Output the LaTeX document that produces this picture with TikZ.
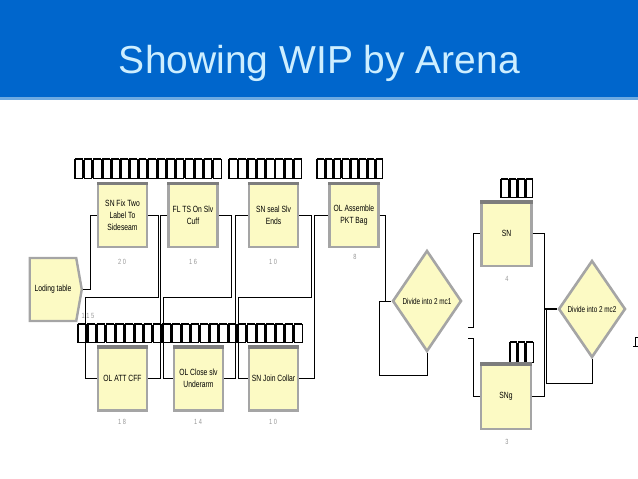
\documentclass[tikz,border=0pt]{standalone}
\usepackage{fontspec}
\setmainfont{Liberation Sans}
\newfontfamily\narrowfont[FakeStretch=0.75]{Liberation Sans}
\usetikzlibrary{shapes.geometric,shapes.symbols}
\definecolor{barblue}{RGB}{0,102,204}
\definecolor{barline}{RGB}{110,170,225}
\definecolor{titletext}{RGB}{205,238,255}
\definecolor{boxfill}{RGB}{252,250,196}
\definecolor{boxedge}{RGB}{165,165,165}
\definecolor{boxtop}{RGB}{125,125,125}
\definecolor{lblgray}{RGB}{150,150,150}
\tikzset{
  procbox/.style={draw=boxedge, line width=2.4pt, fill=boxfill, minimum width=49pt,
    minimum height=64pt, inner sep=1pt, text width=46pt, align=flush center,
    font=\narrowfont\fontsize{9}{12}\selectfont},
  createbox/.style={signal, signal to=east, signal pointer angle=160, draw=boxedge,
    line width=2.4pt, fill=boxfill, minimum width=52pt, minimum height=63pt, inner sep=1pt,
    font=\narrowfont\fontsize{9}{12}\selectfont},
  decidebox/.style={diamond, aspect=0.7, draw=boxedge, line width=2.6pt, fill=boxfill,
    inner sep=0pt, font=\narrowfont\fontsize{8.5}{11.5}\selectfont},
  topband/.style={draw=boxtop, line width=3.5pt},
  conn/.style={draw=black, line width=0.8pt},
  lbl/.style={text=lblgray, font=\narrowfont\fontsize{7.5}{8}\selectfont, inner sep=0pt},
}
\newcommand{\wipq}[5]{%
  \foreach \i in {1,...,#3}{%
    \pgfmathsetmacro{\qx}{#1+(\i-1)*#4}%
    \draw[fill=white, line width=0.7pt] (\qx+0.8,#2+1) rectangle (\qx+#4-0.4,#2+#5);
    \draw[line width=2pt] (\qx+1.2,#2+1.5) -- (\qx+1.2,#2+#5-0.5);
    \draw[line width=1.8pt] (\qx+0.8,#2+1.3) -- (\qx+#4-0.4,#2+1.3);
  }}
\begin{document}
\begin{tikzpicture}[x=1pt,y=-1pt]
\useasboundingbox (0,0) rectangle (638,479);
% title bar
\fill[barblue] (0,0) rectangle (638,97);
\fill[barline] (0,97) rectangle (638,99.5);
\node[anchor=base, font=\fontsize{39}{42}\selectfont, text=titletext, inner sep=0pt] (title) at (319.5,73) {Showing WIP by Arena};

% queues
\wipq{74}{158}{8}{9.1}{20}
\wipq{147}{158}{8}{9.3}{20}
\wipq{228}{158}{8}{9.25}{20}
\wipq{316}{158}{8}{8.4}{20}
\wipq{77}{323}{24}{9.4}{19}
\wipq{500}{178}{4}{8.3}{19}
\wipq{509}{341}{3}{8.1}{21}

% modules
\node[createbox] (load) at (53,289.5) {Loding table};
\node[procbox] (snfix) at (122.5,215) {SN Fix Two\\Label To\\Sideseam};
\node[procbox] (flts) at (193,215) {FL TS On Slv\\Cuff};
\node[procbox] (snseal) at (273.5,215) {SN seal Slv\\Ends};
\node[procbox] (olasm) at (354,215) {OL Assemble\\PKT Bag};
\node[procbox] (olatt) at (122.5,378.5) {OL ATT CFF};
\node[procbox] (olclose) at (198.5,378.5) {OL Close slv\\Underarm};
\node[procbox] (snjoin) at (273.5,378.5) {SN Join Collar};
\node[procbox, minimum width=50pt, minimum height=64.5pt] (sn) at (506.5,233.5) {SN};
\node[procbox, minimum width=49.5pt, minimum height=65.5pt] (sng) at (506,396) {SNg};
\node[decidebox, minimum width=69pt, minimum height=101pt] (div1) at (427,301) {Divide into 2 mc1};
\node[decidebox, minimum width=67pt, minimum height=97pt] (div2) at (592,309) {Divide into 2 mc2};
\foreach \n in {snfix,flts,snseal,olasm,olatt,olclose,snjoin,sn,sng}
  \draw[topband] ([yshift=-1.75pt]\n.north west) -- ([yshift=-1.75pt]\n.north east);

% labels
\node[lbl] (l1) at (122,262) {2 0};
\node[lbl] (l2) at (193,262) {1 6};
\node[lbl] (l3) at (273,262) {1 0};
\node[lbl] (l4) at (355,257) {8};
\node[lbl] (l5) at (122,422) {1 8};
\node[lbl] (l6) at (198,422) {1 4};
\node[lbl] (l7) at (273,422) {1 0};
\node[lbl] (l8) at (507,279) {4};
\node[lbl] (l9) at (507,442) {3};
\node[lbl] (l10) at (88,316) {1 1 5};

% connectors
\draw[conn] (load.east) -- (90,289.5) |- (snfix.west);
\draw[conn] (snfix.east) -- (158,215) -- (158,297) -- (85,297) |- (olatt.west);
\draw[conn] (olatt.east) -- (160.5,378.5) |- (flts.west);
\draw[conn] (flts.east) -- (231,215) -- (231,297) -- (163,297) |- (olclose.west);
\draw[conn] (olclose.east) -- (235,378.5) |- (snseal.west);
\draw[conn] (snseal.east) -- (311,215) -- (311,297) -- (238,297) |- (snjoin.west);
\draw[conn] (snjoin.east) -- (314,378.5) |- (olasm.west);
\draw[conn] (olasm.east) -- (385,215) |- (div1.west);
\draw[conn] (div1.south) -- (427,375) -- (379,375) -- (379,301) -- (div1.west);
\coordinate (d1a) at (468,327);
\coordinate (d1b) at (468,338);
\draw[conn] (d1a) -- (473,327) |- (sn.west);
\draw[conn] (d1b) -- (473,338) |- (sng.west);
\draw[conn] (sn.east) -- (544,233.5) -- (544,309);
\draw[conn] (sng.east) -- (544,396) -- (544,309);
\draw[conn, line width=1.6pt] (544,309) -- (div2.west);
\draw[conn] (div2.south) -- (592,383) -- (546,383) -- (546,309);
\coordinate (d2a) at (635,337);
\coordinate (d2b) at (633,346);
\draw[conn] (d2a) -- (638,337);
\draw[conn] (d2b) -- (638,346);
\draw[conn] (d2a) -- (635,346);
\end{tikzpicture}
\end{document}
